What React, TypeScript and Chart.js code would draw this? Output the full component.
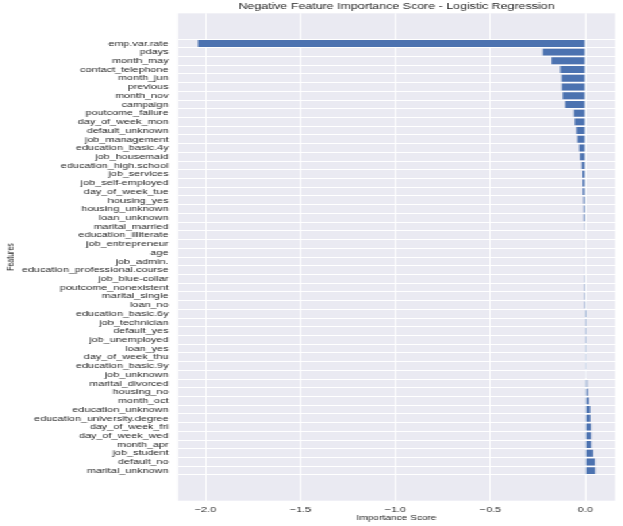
import { useEffect, useRef } from 'react';
import { Chart, registerables } from 'chart.js';

Chart.register(...registerables);

const features = [
  'emp.var.rate', 'pdays', 'month_may', 'contact_telephone', 'month_jun', 'previous', 'month_nov', 'campaign',
  'poutcome_failure', 'day_of_week_mon', 'default_unknown', 'job_management', 'education_basic.4y', 'job_housemaid',
  'education_high.school', 'job_services', 'job_self-employed', 'day_of_week_tue', 'housing_yes', 'housing_unknown',
  'loan_unknown', 'marital_married', 'education_illiterate', 'job_entrepreneur', 'age', 'job_admin.',
  'education_professional.course', 'job_blue-collar', 'poutcome_nonexistent', 'marital_single', 'loan_no',
  'education_basic.6y', 'job_technician', 'default_yes', 'job_unemployed', 'loan_yes', 'day_of_week_thu',
  'education_basic.9y', 'job_unknown', 'marital_divorced', 'housing_no', 'month_oct', 'education_unknown',
  'education_university.degree', 'day_of_week_fri', 'day_of_week_wed', 'month_apr', 'job_student', 'default_no',
  'marital_unknown',
];

const scores = [
  -2.04, -0.225, -0.178, -0.132, -0.126, -0.125, -0.12, -0.107,
  -0.061, -0.056, -0.047, -0.042, -0.032, -0.028,
  -0.019, -0.015, -0.014, -0.013, -0.01, -0.009,
  -0.009, -0.005, -0.004, -0.004, -0.003, -0.003,
  -0.003, -0.002, -0.001, -0.001, -0.0005,
  0.0005, 0.001, 0.001, 0.001, 0.0015, 0.002,
  0.002, 0.003, 0.008, 0.012, 0.017, 0.025,
  0.026, 0.029, 0.0295, 0.03, 0.04, 0.05,
  0.051,
];

const xTicks = [-2.0, -1.5, -1.0, -0.5, 0.0];

const titleText = 'Negative Feature Importance Score - Logistic Regression';
const xTitle = 'Importance Score';
const yTitle = 'Features';

const W = 461;
const H = 526;
const STRETCH = 623 / W;
const AREA_LEFT = 178 / STRETCH;
const AREA_RIGHT = 615 / STRETCH;
const AREA_BOTTOM = 500.7;
const FONT = '"Liberation Sans", Arial, sans-serif';
const TEXT = '#262626';

const bgPlugin = {
  id: 'plotBg',
  beforeDraw(chart: any) {
    const { ctx, chartArea } = chart;
    ctx.save();
    ctx.fillStyle = '#EAEAF2';
    ctx.fillRect(chartArea.left, chartArea.top, chartArea.right - chartArea.left, chartArea.bottom - chartArea.top);
    ctx.restore();
  },
};

export default function App() {
  const ref = useRef<HTMLCanvasElement | null>(null);

  useEffect(() => {
    document.documentElement.style.overflow = 'hidden';
    const canvas = ref.current;
    if (!canvas) return;
    const chart = new Chart(canvas, {
      type: 'bar',
      data: {
        datasets: [
          {
            data: features.map((f, i) => ({ x: scores[i], y: i })),
            backgroundColor: '#4C72B0',
            borderWidth: 0,
            barPercentage: 1,
            categoryPercentage: 0.8,
          },
        ],
      },
      options: {
        indexAxis: 'y',
        animation: false,
        responsive: false,
        devicePixelRatio: 1,
        layout: { padding: { left: 0, right: W - AREA_RIGHT, top: 0, bottom: 0 } },
        plugins: {
          legend: { display: false },
          tooltip: { enabled: false },
          title: {
            display: true,
            text: titleText,
            fullSize: false,
            color: TEXT,
            font: { family: FONT, size: 9.2, weight: 'normal', lineHeight: 1.2 },
            padding: { top: 0.5, bottom: 1.8 },
          },
        },
        scales: {
          x: {
            type: 'linear',
            min: -2.145,
            max: 0.156,
            afterBuildTicks: (s: any) => {
              s.ticks = xTicks.map((v) => ({ value: v }));
            },
            afterFit: (s: any) => {
              s.height = H - AREA_BOTTOM;
            },
            ticks: {
              color: TEXT,
              padding: 4.5,
              maxRotation: 0,
              font: { family: FONT, size: 8 },
              callback: (v: any) => Number(v).toFixed(1).replace('-', '\u2212'),
            },
            grid: { color: '#FFFFFF', lineWidth: 1, drawTicks: false },
            border: { display: false },
            title: {
              display: true,
              text: xTitle,
              color: TEXT,
              font: { family: FONT, size: 7.5 },
              padding: { top: 0, bottom: 3.5 },
            },
          },
          y: {
            type: 'linear',
            reverse: true,
            min: -2.89,
            max: 51.89,
            afterBuildTicks: (s: any) => {
              s.ticks = features.map((_, i) => ({ value: i }));
            },
            afterFit: (s: any) => {
              s.width = AREA_LEFT;
            },
            ticks: {
              autoSkip: false,
              color: TEXT,
              padding: 7,
              font: { family: FONT, size: 8 },
              callback: (v: any) => features[Number(v)] ?? '',
            },
            grid: { color: '#FFFFFF', lineWidth: 1, drawTicks: false },
            border: { display: false },
            title: {
              display: true,
              text: yTitle,
              color: TEXT,
              font: { family: FONT, size: 7 },
              padding: { top: 3.5, bottom: 0 },
            },
          },
        },
      },
      plugins: [bgPlugin],
    } as any);
    return () => chart.destroy();
  }, []);

  return (
    <div
      style={{
        position: 'absolute',
        left: 0,
        top: 0,
        width: W,
        height: H,
        background: '#FFFFFF',
        transform: `scaleX(${STRETCH})`,
        transformOrigin: '0 0',
      }}
    >
      <canvas ref={ref} width={W} height={H} style={{ display: 'block' }} />
    </div>
  );
}
